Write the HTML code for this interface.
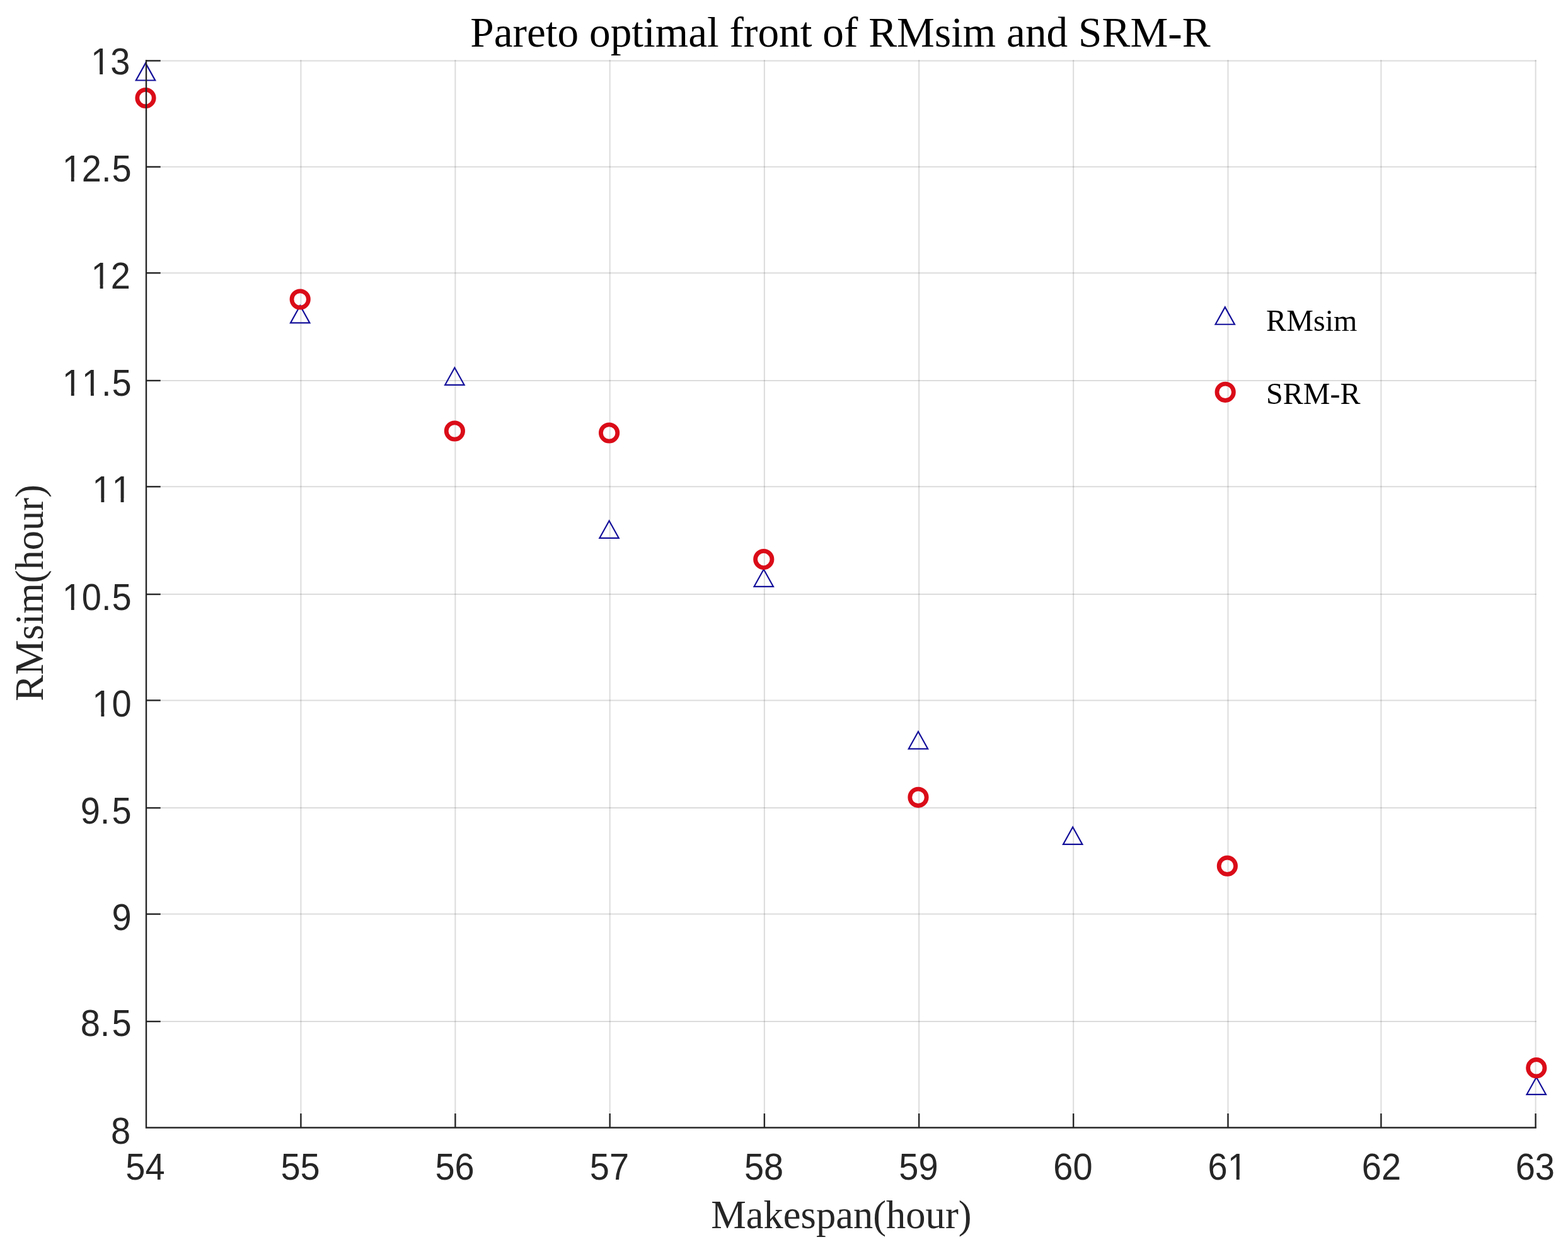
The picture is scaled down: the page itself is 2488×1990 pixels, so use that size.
<!DOCTYPE html>
<html><head><meta charset="utf-8"><title>Pareto optimal front of RMsim and SRM-R</title>
<style>
html,body{margin:0;padding:0;background:#fff;}
body{width:2488px;height:1990px;overflow:hidden;}
svg{display:block;}
text{font-kerning:none;font-feature-settings:"kern" 0;}
.sans{font-family:"Liberation Sans",Arial,Helvetica,sans-serif;}
.serif{font-family:"Liberation Serif","Times New Roman",Times,serif;}
</style></head><body>
<svg width="2488" height="1990" viewBox="0 0 2488 1990">
<rect width="2488" height="1990" fill="#fff"/>
<g stroke="#262626" stroke-opacity="0.16" stroke-width="2" fill="none">
<line x1="477.4" y1="95.0" x2="477.4" y2="1789.5"/>
<line x1="722.4" y1="95.0" x2="722.4" y2="1789.5"/>
<line x1="967.7" y1="95.0" x2="967.7" y2="1789.5"/>
<line x1="1212.9" y1="95.0" x2="1212.9" y2="1789.5"/>
<line x1="1458.2" y1="95.0" x2="1458.2" y2="1789.5"/>
<line x1="1703.2" y1="95.0" x2="1703.2" y2="1789.5"/>
<line x1="1948.5" y1="95.0" x2="1948.5" y2="1789.5"/>
<line x1="2191.4" y1="95.0" x2="2191.4" y2="1789.5"/>
<line x1="2436.6" y1="95.0" x2="2436.6" y2="1789.5"/>
<line x1="232.0" y1="96.4" x2="2437.9" y2="96.4"/>
<line x1="232.0" y1="264.8" x2="2437.9" y2="264.8"/>
<line x1="232.0" y1="433.2" x2="2437.9" y2="433.2"/>
<line x1="232.0" y1="604.0" x2="2437.9" y2="604.0"/>
<line x1="232.0" y1="772.3" x2="2437.9" y2="772.3"/>
<line x1="232.0" y1="943.1" x2="2437.9" y2="943.1"/>
<line x1="232.0" y1="1111.4" x2="2437.9" y2="1111.4"/>
<line x1="232.0" y1="1282.1" x2="2437.9" y2="1282.1"/>
<line x1="232.0" y1="1450.6" x2="2437.9" y2="1450.6"/>
<line x1="232.0" y1="1621.0" x2="2437.9" y2="1621.0"/>
</g>
<g fill="none" stroke="#14109a" stroke-width="2.2" stroke-linejoin="miter">
<path d="M215.80 127.50H246.20L231.00 100.10Z"/>
<path d="M461.00 512.40H491.40L476.20 485.00Z"/>
<path d="M706.20 610.80H736.60L721.40 583.40Z"/>
<path d="M951.40 853.80H981.80L966.60 826.40Z"/>
<path d="M1196.60 930.80H1227.00L1211.80 903.40Z"/>
<path d="M1441.80 1188.30H1472.20L1457.00 1160.90Z"/>
<path d="M1687.00 1339.90H1717.40L1702.20 1312.50Z"/>
<path d="M2422.60 1736.80H2453.00L2437.80 1709.40Z"/>
<path d="M1928.60 514.75H1959.00L1943.80 487.35Z"/>
</g>
<g fill="none" stroke="#da0c18" stroke-width="6.8">
<circle cx="231.00" cy="155.50" r="13.2"/>
<circle cx="476.20" cy="475.00" r="13.2"/>
<circle cx="721.40" cy="684.00" r="13.2"/>
<circle cx="966.60" cy="687.00" r="13.2"/>
<circle cx="1211.80" cy="887.60" r="13.2"/>
<circle cx="1457.00" cy="1265.30" r="13.2"/>
<circle cx="1947.40" cy="1374.20" r="13.2"/>
<circle cx="2437.80" cy="1694.70" r="13.2"/>
<circle cx="1944.20" cy="622.30" r="13.2"/>
</g>
<g stroke="#262626" stroke-width="2.4" fill="none" stroke-linecap="butt">
<path d="M232.0 95.0V1789.5H2437.9"/>
<line x1="477.4" y1="1789.5" x2="477.4" y2="1767.0"/>
<line x1="722.4" y1="1789.5" x2="722.4" y2="1767.0"/>
<line x1="967.7" y1="1789.5" x2="967.7" y2="1767.0"/>
<line x1="1212.9" y1="1789.5" x2="1212.9" y2="1767.0"/>
<line x1="1458.2" y1="1789.5" x2="1458.2" y2="1767.0"/>
<line x1="1703.2" y1="1789.5" x2="1703.2" y2="1767.0"/>
<line x1="1948.5" y1="1789.5" x2="1948.5" y2="1767.0"/>
<line x1="2191.4" y1="1789.5" x2="2191.4" y2="1767.0"/>
<line x1="2436.6" y1="1789.5" x2="2436.6" y2="1767.0"/>
<line x1="232.0" y1="96.4" x2="254.7" y2="96.4"/>
<line x1="232.0" y1="264.8" x2="254.7" y2="264.8"/>
<line x1="232.0" y1="433.2" x2="254.7" y2="433.2"/>
<line x1="232.0" y1="604.0" x2="254.7" y2="604.0"/>
<line x1="232.0" y1="772.3" x2="254.7" y2="772.3"/>
<line x1="232.0" y1="943.1" x2="254.7" y2="943.1"/>
<line x1="232.0" y1="1111.4" x2="254.7" y2="1111.4"/>
<line x1="232.0" y1="1282.1" x2="254.7" y2="1282.1"/>
<line x1="232.0" y1="1450.6" x2="254.7" y2="1450.6"/>
<line x1="232.0" y1="1621.0" x2="254.7" y2="1621.0"/>
</g>
<g class="sans" font-size="56" fill="#262626">
<g transform="translate(0 117.97) scale(1 1.06)"><text x="144.11" y="0">13</text><g fill="#fff"><rect x="146.88" y="-5.78" width="11.32" height="8.28"/><rect x="163.14" y="-5.78" width="10.88" height="8.28"/></g></g>
<g transform="translate(0 287.67) scale(1 1.06)"><text x="98.71" y="0">12.<tspan dx="0.9">5</tspan></text><g fill="#fff"><rect x="101.47" y="-5.78" width="11.32" height="8.28"/><rect x="117.74" y="-5.78" width="10.88" height="8.28"/></g></g>
<g transform="translate(0 457.87) scale(1 1.06)"><text x="144.51" y="0">12</text><g fill="#fff"><rect x="147.28" y="-5.78" width="11.32" height="8.28"/><rect x="163.54" y="-5.78" width="10.88" height="8.28"/></g></g>
<g transform="translate(0 627.97) scale(1 1.06)"><text x="98.71" y="0">11.<tspan dx="0.9">5</tspan></text><g fill="#fff"><rect x="101.47" y="-5.78" width="11.32" height="8.28"/><rect x="117.74" y="-5.78" width="10.88" height="8.28"/><rect x="132.62" y="-5.78" width="11.32" height="8.28"/><rect x="148.88" y="-5.78" width="10.88" height="8.28"/></g></g>
<g transform="translate(0 797.47) scale(1 1.06)"><text x="146.31" y="0">11</text><g fill="#fff"><rect x="149.08" y="-5.78" width="11.32" height="8.28"/><rect x="165.34" y="-5.78" width="10.88" height="8.28"/><rect x="180.22" y="-5.78" width="11.32" height="8.28"/><rect x="196.49" y="-5.78" width="10.88" height="8.28"/></g></g>
<g transform="translate(0 967.82) scale(1 1.06)"><text x="98.71" y="0">10.<tspan dx="0.9">5</tspan></text><g fill="#fff"><rect x="101.47" y="-5.78" width="11.32" height="8.28"/><rect x="117.74" y="-5.78" width="10.88" height="8.28"/></g></g>
<g transform="translate(0 1136.62) scale(1 1.06)"><text x="146.31" y="0">10</text><g fill="#fff"><rect x="149.08" y="-5.78" width="11.32" height="8.28"/><rect x="165.34" y="-5.78" width="10.88" height="8.28"/></g></g>
<g transform="translate(0 1306.92) scale(1 1.06)"><text x="127.75" y="0">9.<tspan dx="3.0">5</tspan></text></g>
<g transform="translate(0 1475.57) scale(1 1.06)"><text x="177.46" y="0">9</text></g>
<g transform="translate(0 1643.62) scale(1 1.06)"><text x="127.75" y="0">8.<tspan dx="3.0">5</tspan></text></g>
<g transform="translate(0 1814.67) scale(1 1.06)"><text x="175.96" y="0">8</text></g>
<g transform="translate(0 1872.42) scale(1 1.06)"><text x="199.26" y="0">54</text></g>
<g transform="translate(0 1872.42) scale(1 1.06)"><text x="445.46" y="0">55</text></g>
<g transform="translate(0 1872.42) scale(1 1.06)"><text x="690.46" y="0">56</text></g>
<g transform="translate(0 1872.42) scale(1 1.06)"><text x="935.76" y="0">57</text></g>
<g transform="translate(0 1872.42) scale(1 1.06)"><text x="1180.96" y="0">58</text></g>
<g transform="translate(0 1872.42) scale(1 1.06)"><text x="1426.26" y="0">59</text></g>
<g transform="translate(0 1872.42) scale(1 1.06)"><text x="1671.26" y="0">60</text></g>
<g transform="translate(0 1872.42) scale(1 1.06)"><text x="1916.56" y="0">61</text><g fill="#fff"><rect x="1950.47" y="-5.78" width="11.32" height="8.28"/><rect x="1966.73" y="-5.78" width="10.88" height="8.28"/></g></g>
<g transform="translate(0 1872.42) scale(1 1.06)"><text x="2160.86" y="0">62</text></g>
<g transform="translate(0 1872.42) scale(1 1.06)"><text x="2404.66" y="0">63</text></g>
</g>
<g class="serif">
<text x="746.2" y="73.5" font-size="67.34" fill="#000">Pareto optimal front of RMsim and SRM-R</text>
<text x="1128.2" y="1949.4" font-size="62.56" fill="#262626">Makespan(hour)</text>
<text transform="translate(67.9 1112.8) rotate(-90)" x="0" y="0" font-size="62.5" fill="#262626">RMsim(hour)</text>
<text x="2009.1" y="525.1" font-size="48.1" fill="#000">RMsim</text>
<text x="2008.9" y="640.5" font-size="48.1" fill="#000">SRM-R</text>
</g>
</svg>
</body></html>
